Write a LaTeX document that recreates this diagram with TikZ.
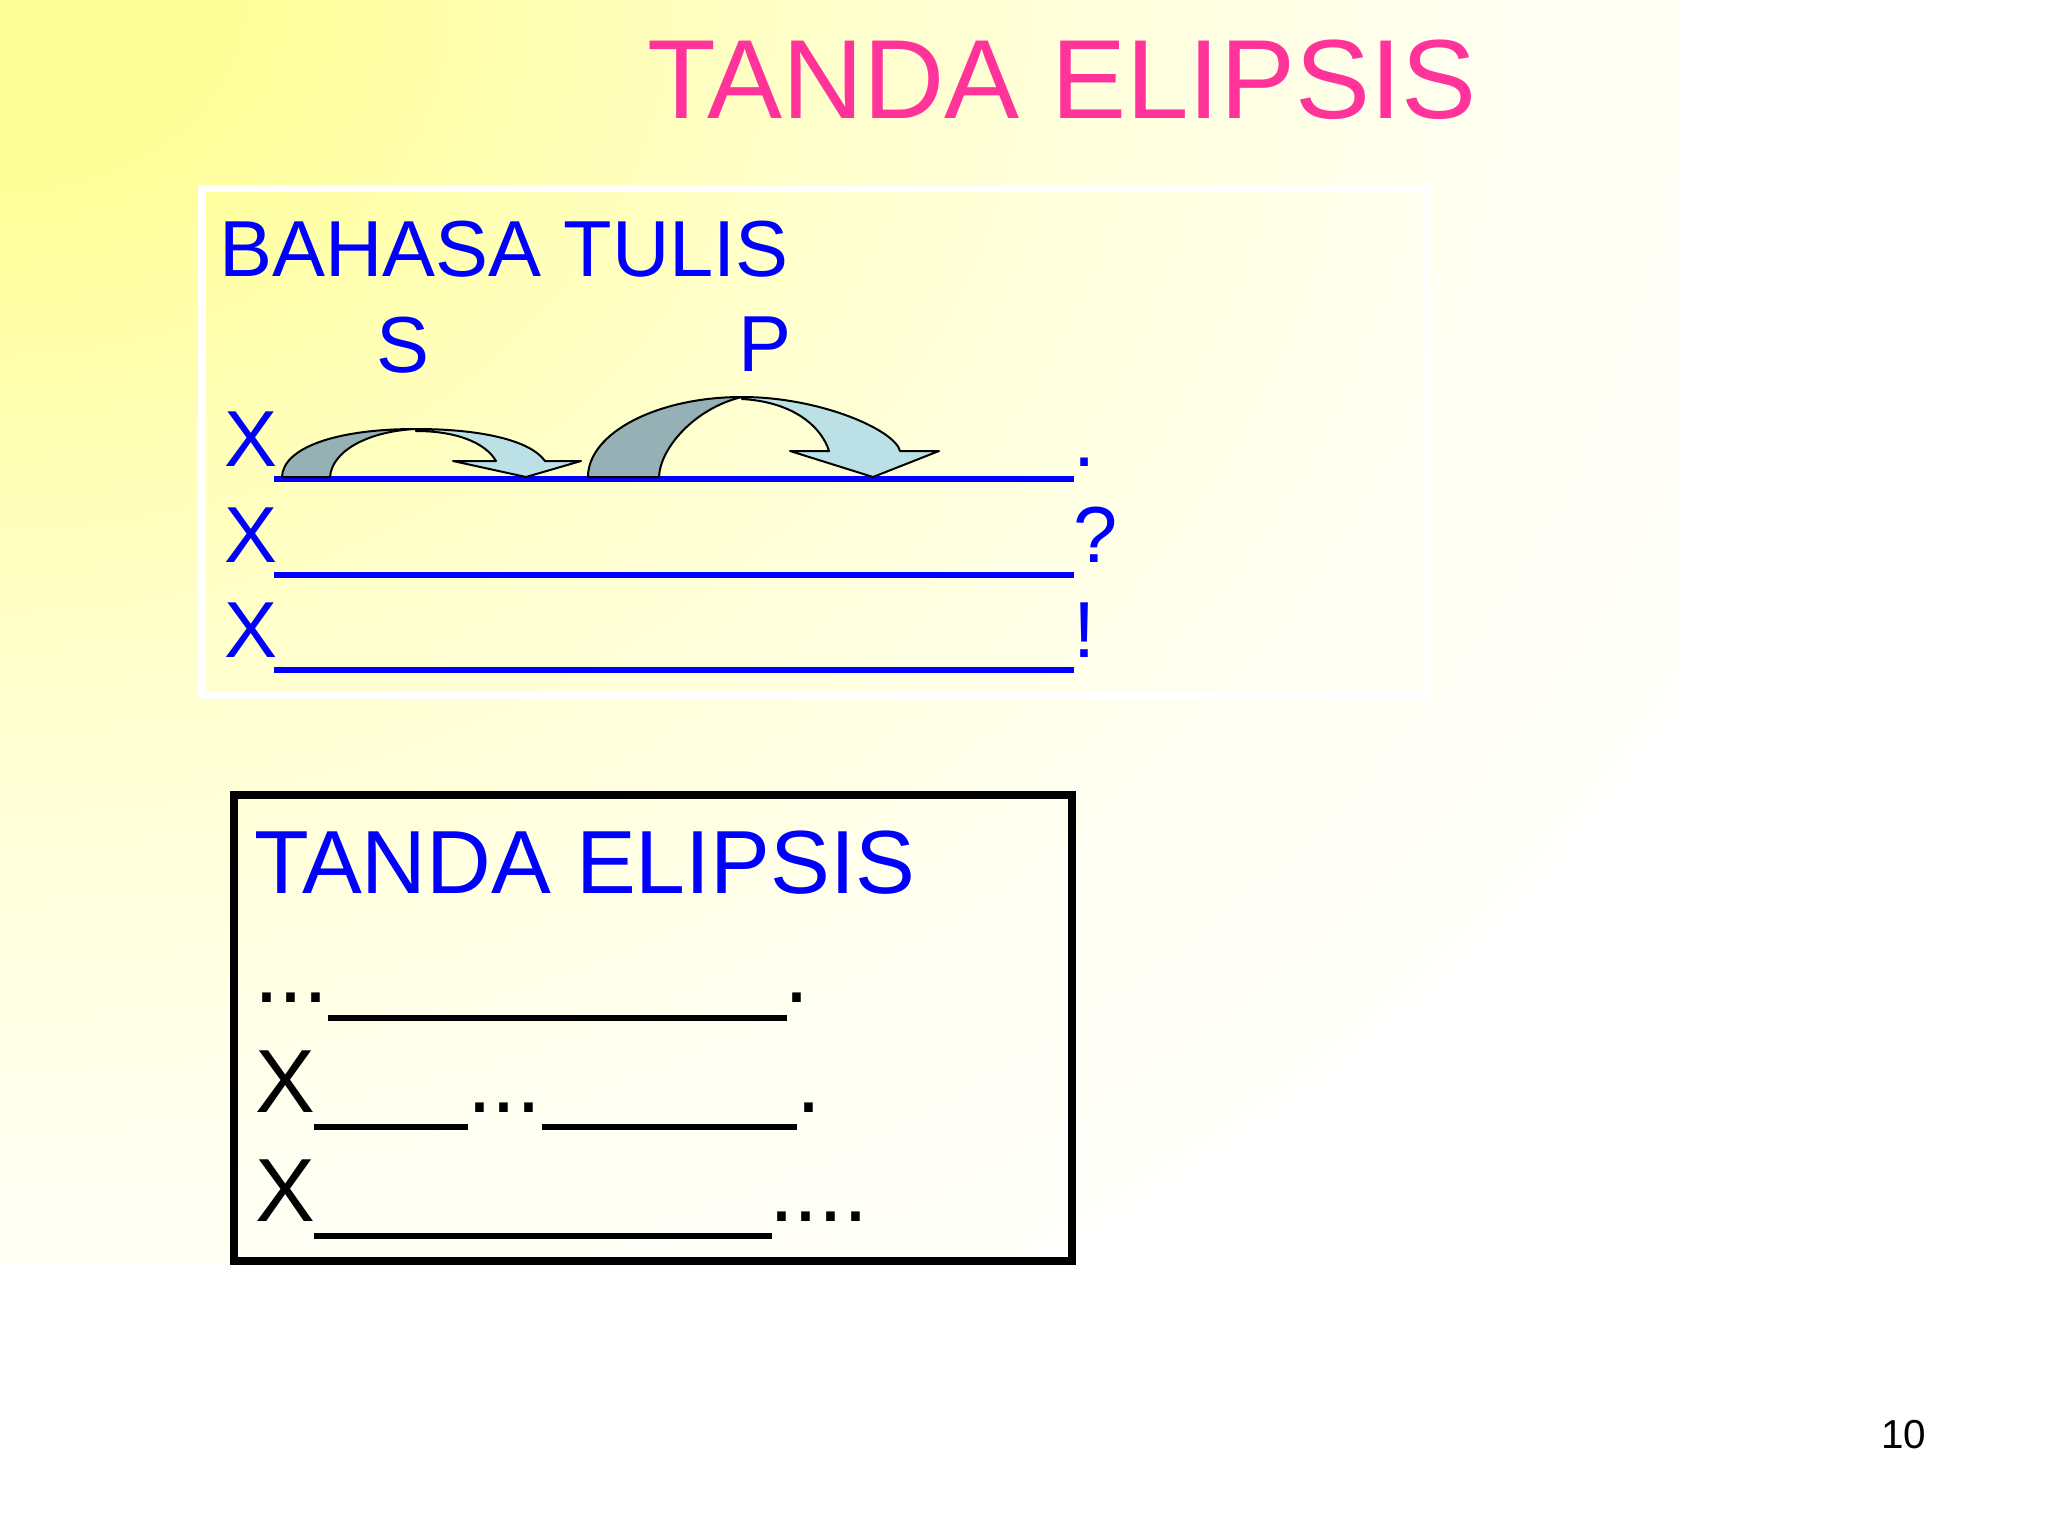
\documentclass[tikz,border=0pt]{standalone}
\usepackage{fontspec}
\setmainfont{Liberation Sans}
\definecolor{bgyel}{RGB}{255,255,153}
\definecolor{judulpink}{RGB}{255,51,153}
\definecolor{panahgelap}{RGB}{150,177,181}
\definecolor{panahterang}{RGB}{187,225,230}
\pgfdeclareradialshading{latarslide}{\pgfpoint{0bp}{0bp}}{color(0bp)=(bgyel); color(3bp)=(bgyel); color(12bp)=(bgyel!45!white); color(20bp)=(bgyel!12!white); color(25bp)=(bgyel!4!white); color(50bp)=(white)}
\newcommand{\fsz}[1]{\fontsize{#1}{#1}\selectfont}
\begin{document}
\begin{tikzpicture}[x=0.01cm,y=-0.01cm,
    every node/.style={inner sep=0pt,outer sep=0pt},
    judul/.style={anchor=base west,font=\fsz{32pt},text=judulpink},
    teksbiru/.style={anchor=base west,font=\fsz{22.6pt},text=blue},
    teksbox/.style={anchor=base west,font=\fsz{25.5pt}},
    garisbiru/.style={blue,line width=0.06cm},
    garishitam/.style={black,line width=0.055cm},
    panahbelakang/.style={fill=panahgelap,draw=black,line width=0.02cm,line join=round},
    panahdepan/.style={fill=panahterang,draw=black,line width=0.02cm,line join=round}]
    \useasboundingbox (0,0) rectangle (2048,1536);
    %latar
    \fill[white] (0,0) rectangle (2048,1536);
    \begin{scope}
        \clip (0,0) rectangle (1680,1262);
        \shade[shading=latarslide] (0,0) ellipse (1900 and 1500);
    \end{scope}
    %judul
    \node[judul] (judul) at (647,118) {TANDA ELIPSIS};
    %bahasa tulis
    \draw[white,line width=0.07cm] (202,188) rectangle (1426,695);
    \node[teksbiru] (bahasa) at (219,276) {BAHASA TULIS};
    \node[teksbiru] (s) at (376,372) {S};
    \node[teksbiru] (p) at (738,371) {P};
    \foreach \yb/\tnd/\nm in {466/./a,562/?/b,657/!/c}{
        \node[teksbiru] (x\nm) at (224,\yb) {X};
        \draw[garisbiru] (274,\yb+13) -- (1074,\yb+13);
        \node[teksbiru] (t\nm) at (1073,\yb) {\tnd};
    }
    %panah S
    \draw[panahbelakang] (282,477) .. controls (283,448) and (335,429) .. (416,429)
        .. controls (370,431) and (332,450) .. (330,477) -- cycle;
    \draw[panahdepan] (416,429) .. controls (480,429) and (530,440) .. (545,461)
        -- (581,461) -- (526,477) -- (453,461) -- (496,461)
        .. controls (485,442) and (455,431) .. (416,431) -- cycle;
    %panah P
    \draw[panahbelakang] (588,477) .. controls (588,433) and (657,397) .. (742,397)
        .. controls (695,408) and (660,448) .. (659,477) -- cycle;
    \draw[panahdepan] (742,397) .. controls (820,397) and (895,430) .. (900,451)
        -- (939,451) -- (873,477) -- (790,451) -- (829,451)
        .. controls (822,428) and (795,402) .. (742,399) -- cycle;
    %kotak tanda elipsis
    \draw[line width=0.08cm] (234,795) rectangle (1072,1261);
    \node[teksbox,text=blue] (tanda) at (254,893) {TANDA ELIPSIS};
    \node[teksbox] (ea) at (254,1002) {...};
    \draw[garishitam] (328,1018) -- (787,1018);
    \node[teksbox] (eb) at (784,1002) {.};
    \node[teksbox] (xd) at (255,1112) {X};
    \draw[garishitam] (314,1127) -- (468,1127);
    \node[teksbox] (ec) at (467,1112) {...};
    \draw[garishitam] (542,1127) -- (797,1127);
    \node[teksbox] (ed) at (796,1112) {.};
    \node[teksbox] (xe) at (255,1221) {X};
    \draw[garishitam] (314,1236) -- (772,1236);
    \node[teksbox] (ee) at (769,1221) {....};
    %halaman
    \node[anchor=base west,font=\fsz{11.5pt}] (hal) at (1881,1448) {10};
\end{tikzpicture}
\end{document}
